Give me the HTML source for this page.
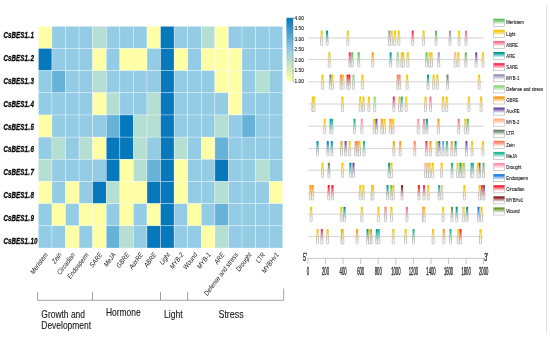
<!DOCTYPE html>
<html lang="en"><head><meta charset="utf-8"><title>CsBES1 cis-elements</title>
<style>
html,body{margin:0;padding:0;background:#fff;}
body{width:550px;height:337px;overflow:hidden;font-family:"Liberation Sans",Arial,sans-serif;}
svg{display:block;filter:blur(0.35px);}
</style></head><body>
<svg width="550" height="337" viewBox="0 0 550 337">
<rect width="550" height="337" fill="#ffffff"/>
<g id="heatmap" shape-rendering="auto">
<rect x="38.40" y="26.30" width="13.57" height="22.17" fill="#ffffa6" stroke="#ffffff" stroke-opacity="0.6" stroke-width="0.5"/>
<rect x="51.97" y="26.30" width="13.57" height="22.17" fill="#94cce6" stroke="#ffffff" stroke-opacity="0.6" stroke-width="0.5"/>
<rect x="65.55" y="26.30" width="13.57" height="22.17" fill="#94cce6" stroke="#ffffff" stroke-opacity="0.6" stroke-width="0.5"/>
<rect x="79.12" y="26.30" width="13.57" height="22.17" fill="#94cce6" stroke="#ffffff" stroke-opacity="0.6" stroke-width="0.5"/>
<rect x="92.70" y="26.30" width="13.57" height="22.17" fill="#b5dfd3" stroke="#ffffff" stroke-opacity="0.6" stroke-width="0.5"/>
<rect x="106.28" y="26.30" width="13.57" height="22.17" fill="#94cce6" stroke="#ffffff" stroke-opacity="0.6" stroke-width="0.5"/>
<rect x="119.85" y="26.30" width="13.57" height="22.17" fill="#94cce6" stroke="#ffffff" stroke-opacity="0.6" stroke-width="0.5"/>
<rect x="133.42" y="26.30" width="13.57" height="22.17" fill="#94cce6" stroke="#ffffff" stroke-opacity="0.6" stroke-width="0.5"/>
<rect x="147.00" y="26.30" width="13.57" height="22.17" fill="#ffffa6" stroke="#ffffff" stroke-opacity="0.6" stroke-width="0.5"/>
<rect x="160.57" y="26.30" width="13.57" height="22.17" fill="#0678bb" stroke="#ffffff" stroke-opacity="0.6" stroke-width="0.5"/>
<rect x="174.15" y="26.30" width="13.57" height="22.17" fill="#94cce6" stroke="#ffffff" stroke-opacity="0.6" stroke-width="0.5"/>
<rect x="187.72" y="26.30" width="13.57" height="22.17" fill="#94cce6" stroke="#ffffff" stroke-opacity="0.6" stroke-width="0.5"/>
<rect x="201.30" y="26.30" width="13.57" height="22.17" fill="#b5dfd3" stroke="#ffffff" stroke-opacity="0.6" stroke-width="0.5"/>
<rect x="214.88" y="26.30" width="13.57" height="22.17" fill="#ffffa6" stroke="#ffffff" stroke-opacity="0.6" stroke-width="0.5"/>
<rect x="228.45" y="26.30" width="13.57" height="22.17" fill="#94cce6" stroke="#ffffff" stroke-opacity="0.6" stroke-width="0.5"/>
<rect x="242.03" y="26.30" width="13.57" height="22.17" fill="#94cce6" stroke="#ffffff" stroke-opacity="0.6" stroke-width="0.5"/>
<rect x="255.60" y="26.30" width="13.57" height="22.17" fill="#94cce6" stroke="#ffffff" stroke-opacity="0.6" stroke-width="0.5"/>
<rect x="269.17" y="26.30" width="13.57" height="22.17" fill="#94cce6" stroke="#ffffff" stroke-opacity="0.6" stroke-width="0.5"/>
<rect x="38.40" y="48.47" width="13.57" height="22.17" fill="#0678bb" stroke="#ffffff" stroke-opacity="0.6" stroke-width="0.5"/>
<rect x="51.97" y="48.47" width="13.57" height="22.17" fill="#94cce6" stroke="#ffffff" stroke-opacity="0.6" stroke-width="0.5"/>
<rect x="65.55" y="48.47" width="13.57" height="22.17" fill="#94cce6" stroke="#ffffff" stroke-opacity="0.6" stroke-width="0.5"/>
<rect x="79.12" y="48.47" width="13.57" height="22.17" fill="#94cce6" stroke="#ffffff" stroke-opacity="0.6" stroke-width="0.5"/>
<rect x="92.70" y="48.47" width="13.57" height="22.17" fill="#ffffa6" stroke="#ffffff" stroke-opacity="0.6" stroke-width="0.5"/>
<rect x="106.28" y="48.47" width="13.57" height="22.17" fill="#94cce6" stroke="#ffffff" stroke-opacity="0.6" stroke-width="0.5"/>
<rect x="119.85" y="48.47" width="13.57" height="22.17" fill="#ffffa6" stroke="#ffffff" stroke-opacity="0.6" stroke-width="0.5"/>
<rect x="133.42" y="48.47" width="13.57" height="22.17" fill="#ffffa6" stroke="#ffffff" stroke-opacity="0.6" stroke-width="0.5"/>
<rect x="147.00" y="48.47" width="13.57" height="22.17" fill="#94cce6" stroke="#ffffff" stroke-opacity="0.6" stroke-width="0.5"/>
<rect x="160.57" y="48.47" width="13.57" height="22.17" fill="#0678bb" stroke="#ffffff" stroke-opacity="0.6" stroke-width="0.5"/>
<rect x="174.15" y="48.47" width="13.57" height="22.17" fill="#ffffa6" stroke="#ffffff" stroke-opacity="0.6" stroke-width="0.5"/>
<rect x="187.72" y="48.47" width="13.57" height="22.17" fill="#94cce6" stroke="#ffffff" stroke-opacity="0.6" stroke-width="0.5"/>
<rect x="201.30" y="48.47" width="13.57" height="22.17" fill="#ffffa6" stroke="#ffffff" stroke-opacity="0.6" stroke-width="0.5"/>
<rect x="214.88" y="48.47" width="13.57" height="22.17" fill="#ffffa6" stroke="#ffffff" stroke-opacity="0.6" stroke-width="0.5"/>
<rect x="228.45" y="48.47" width="13.57" height="22.17" fill="#ffffa6" stroke="#ffffff" stroke-opacity="0.6" stroke-width="0.5"/>
<rect x="242.03" y="48.47" width="13.57" height="22.17" fill="#94cce6" stroke="#ffffff" stroke-opacity="0.6" stroke-width="0.5"/>
<rect x="255.60" y="48.47" width="13.57" height="22.17" fill="#94cce6" stroke="#ffffff" stroke-opacity="0.6" stroke-width="0.5"/>
<rect x="269.17" y="48.47" width="13.57" height="22.17" fill="#94cce6" stroke="#ffffff" stroke-opacity="0.6" stroke-width="0.5"/>
<rect x="38.40" y="70.64" width="13.57" height="22.17" fill="#94cce6" stroke="#ffffff" stroke-opacity="0.6" stroke-width="0.5"/>
<rect x="51.97" y="70.64" width="13.57" height="22.17" fill="#66b2d8" stroke="#ffffff" stroke-opacity="0.6" stroke-width="0.5"/>
<rect x="65.55" y="70.64" width="13.57" height="22.17" fill="#94cce6" stroke="#ffffff" stroke-opacity="0.6" stroke-width="0.5"/>
<rect x="79.12" y="70.64" width="13.57" height="22.17" fill="#94cce6" stroke="#ffffff" stroke-opacity="0.6" stroke-width="0.5"/>
<rect x="92.70" y="70.64" width="13.57" height="22.17" fill="#b5dfd3" stroke="#ffffff" stroke-opacity="0.6" stroke-width="0.5"/>
<rect x="106.28" y="70.64" width="13.57" height="22.17" fill="#94cce6" stroke="#ffffff" stroke-opacity="0.6" stroke-width="0.5"/>
<rect x="119.85" y="70.64" width="13.57" height="22.17" fill="#94cce6" stroke="#ffffff" stroke-opacity="0.6" stroke-width="0.5"/>
<rect x="133.42" y="70.64" width="13.57" height="22.17" fill="#94cce6" stroke="#ffffff" stroke-opacity="0.6" stroke-width="0.5"/>
<rect x="147.00" y="70.64" width="13.57" height="22.17" fill="#94cce6" stroke="#ffffff" stroke-opacity="0.6" stroke-width="0.5"/>
<rect x="160.57" y="70.64" width="13.57" height="22.17" fill="#0678bb" stroke="#ffffff" stroke-opacity="0.6" stroke-width="0.5"/>
<rect x="174.15" y="70.64" width="13.57" height="22.17" fill="#94cce6" stroke="#ffffff" stroke-opacity="0.6" stroke-width="0.5"/>
<rect x="187.72" y="70.64" width="13.57" height="22.17" fill="#94cce6" stroke="#ffffff" stroke-opacity="0.6" stroke-width="0.5"/>
<rect x="201.30" y="70.64" width="13.57" height="22.17" fill="#94cce6" stroke="#ffffff" stroke-opacity="0.6" stroke-width="0.5"/>
<rect x="214.88" y="70.64" width="13.57" height="22.17" fill="#ffffa6" stroke="#ffffff" stroke-opacity="0.6" stroke-width="0.5"/>
<rect x="228.45" y="70.64" width="13.57" height="22.17" fill="#ffffa6" stroke="#ffffff" stroke-opacity="0.6" stroke-width="0.5"/>
<rect x="242.03" y="70.64" width="13.57" height="22.17" fill="#94cce6" stroke="#ffffff" stroke-opacity="0.6" stroke-width="0.5"/>
<rect x="255.60" y="70.64" width="13.57" height="22.17" fill="#b5dfd3" stroke="#ffffff" stroke-opacity="0.6" stroke-width="0.5"/>
<rect x="269.17" y="70.64" width="13.57" height="22.17" fill="#94cce6" stroke="#ffffff" stroke-opacity="0.6" stroke-width="0.5"/>
<rect x="38.40" y="92.81" width="13.57" height="22.17" fill="#94cce6" stroke="#ffffff" stroke-opacity="0.6" stroke-width="0.5"/>
<rect x="51.97" y="92.81" width="13.57" height="22.17" fill="#94cce6" stroke="#ffffff" stroke-opacity="0.6" stroke-width="0.5"/>
<rect x="65.55" y="92.81" width="13.57" height="22.17" fill="#94cce6" stroke="#ffffff" stroke-opacity="0.6" stroke-width="0.5"/>
<rect x="79.12" y="92.81" width="13.57" height="22.17" fill="#94cce6" stroke="#ffffff" stroke-opacity="0.6" stroke-width="0.5"/>
<rect x="92.70" y="92.81" width="13.57" height="22.17" fill="#ffffa6" stroke="#ffffff" stroke-opacity="0.6" stroke-width="0.5"/>
<rect x="106.28" y="92.81" width="13.57" height="22.17" fill="#b5dfd3" stroke="#ffffff" stroke-opacity="0.6" stroke-width="0.5"/>
<rect x="119.85" y="92.81" width="13.57" height="22.17" fill="#94cce6" stroke="#ffffff" stroke-opacity="0.6" stroke-width="0.5"/>
<rect x="133.42" y="92.81" width="13.57" height="22.17" fill="#94cce6" stroke="#ffffff" stroke-opacity="0.6" stroke-width="0.5"/>
<rect x="147.00" y="92.81" width="13.57" height="22.17" fill="#b5dfd3" stroke="#ffffff" stroke-opacity="0.6" stroke-width="0.5"/>
<rect x="160.57" y="92.81" width="13.57" height="22.17" fill="#0678bb" stroke="#ffffff" stroke-opacity="0.6" stroke-width="0.5"/>
<rect x="174.15" y="92.81" width="13.57" height="22.17" fill="#94cce6" stroke="#ffffff" stroke-opacity="0.6" stroke-width="0.5"/>
<rect x="187.72" y="92.81" width="13.57" height="22.17" fill="#94cce6" stroke="#ffffff" stroke-opacity="0.6" stroke-width="0.5"/>
<rect x="201.30" y="92.81" width="13.57" height="22.17" fill="#94cce6" stroke="#ffffff" stroke-opacity="0.6" stroke-width="0.5"/>
<rect x="214.88" y="92.81" width="13.57" height="22.17" fill="#94cce6" stroke="#ffffff" stroke-opacity="0.6" stroke-width="0.5"/>
<rect x="228.45" y="92.81" width="13.57" height="22.17" fill="#ffffa6" stroke="#ffffff" stroke-opacity="0.6" stroke-width="0.5"/>
<rect x="242.03" y="92.81" width="13.57" height="22.17" fill="#94cce6" stroke="#ffffff" stroke-opacity="0.6" stroke-width="0.5"/>
<rect x="255.60" y="92.81" width="13.57" height="22.17" fill="#94cce6" stroke="#ffffff" stroke-opacity="0.6" stroke-width="0.5"/>
<rect x="269.17" y="92.81" width="13.57" height="22.17" fill="#94cce6" stroke="#ffffff" stroke-opacity="0.6" stroke-width="0.5"/>
<rect x="38.40" y="114.98" width="13.57" height="22.17" fill="#ffffa6" stroke="#ffffff" stroke-opacity="0.6" stroke-width="0.5"/>
<rect x="51.97" y="114.98" width="13.57" height="22.17" fill="#94cce6" stroke="#ffffff" stroke-opacity="0.6" stroke-width="0.5"/>
<rect x="65.55" y="114.98" width="13.57" height="22.17" fill="#94cce6" stroke="#ffffff" stroke-opacity="0.6" stroke-width="0.5"/>
<rect x="79.12" y="114.98" width="13.57" height="22.17" fill="#94cce6" stroke="#ffffff" stroke-opacity="0.6" stroke-width="0.5"/>
<rect x="92.70" y="114.98" width="13.57" height="22.17" fill="#94cce6" stroke="#ffffff" stroke-opacity="0.6" stroke-width="0.5"/>
<rect x="106.28" y="114.98" width="13.57" height="22.17" fill="#66b2d8" stroke="#ffffff" stroke-opacity="0.6" stroke-width="0.5"/>
<rect x="119.85" y="114.98" width="13.57" height="22.17" fill="#0678bb" stroke="#ffffff" stroke-opacity="0.6" stroke-width="0.5"/>
<rect x="133.42" y="114.98" width="13.57" height="22.17" fill="#b5dfd3" stroke="#ffffff" stroke-opacity="0.6" stroke-width="0.5"/>
<rect x="147.00" y="114.98" width="13.57" height="22.17" fill="#b5dfd3" stroke="#ffffff" stroke-opacity="0.6" stroke-width="0.5"/>
<rect x="160.57" y="114.98" width="13.57" height="22.17" fill="#0678bb" stroke="#ffffff" stroke-opacity="0.6" stroke-width="0.5"/>
<rect x="174.15" y="114.98" width="13.57" height="22.17" fill="#94cce6" stroke="#ffffff" stroke-opacity="0.6" stroke-width="0.5"/>
<rect x="187.72" y="114.98" width="13.57" height="22.17" fill="#94cce6" stroke="#ffffff" stroke-opacity="0.6" stroke-width="0.5"/>
<rect x="201.30" y="114.98" width="13.57" height="22.17" fill="#94cce6" stroke="#ffffff" stroke-opacity="0.6" stroke-width="0.5"/>
<rect x="214.88" y="114.98" width="13.57" height="22.17" fill="#b5dfd3" stroke="#ffffff" stroke-opacity="0.6" stroke-width="0.5"/>
<rect x="228.45" y="114.98" width="13.57" height="22.17" fill="#94cce6" stroke="#ffffff" stroke-opacity="0.6" stroke-width="0.5"/>
<rect x="242.03" y="114.98" width="13.57" height="22.17" fill="#66b2d8" stroke="#ffffff" stroke-opacity="0.6" stroke-width="0.5"/>
<rect x="255.60" y="114.98" width="13.57" height="22.17" fill="#94cce6" stroke="#ffffff" stroke-opacity="0.6" stroke-width="0.5"/>
<rect x="269.17" y="114.98" width="13.57" height="22.17" fill="#94cce6" stroke="#ffffff" stroke-opacity="0.6" stroke-width="0.5"/>
<rect x="38.40" y="137.15" width="13.57" height="22.17" fill="#94cce6" stroke="#ffffff" stroke-opacity="0.6" stroke-width="0.5"/>
<rect x="51.97" y="137.15" width="13.57" height="22.17" fill="#b5dfd3" stroke="#ffffff" stroke-opacity="0.6" stroke-width="0.5"/>
<rect x="65.55" y="137.15" width="13.57" height="22.17" fill="#94cce6" stroke="#ffffff" stroke-opacity="0.6" stroke-width="0.5"/>
<rect x="79.12" y="137.15" width="13.57" height="22.17" fill="#b5dfd3" stroke="#ffffff" stroke-opacity="0.6" stroke-width="0.5"/>
<rect x="92.70" y="137.15" width="13.57" height="22.17" fill="#ffffa6" stroke="#ffffff" stroke-opacity="0.6" stroke-width="0.5"/>
<rect x="106.28" y="137.15" width="13.57" height="22.17" fill="#0678bb" stroke="#ffffff" stroke-opacity="0.6" stroke-width="0.5"/>
<rect x="119.85" y="137.15" width="13.57" height="22.17" fill="#0678bb" stroke="#ffffff" stroke-opacity="0.6" stroke-width="0.5"/>
<rect x="133.42" y="137.15" width="13.57" height="22.17" fill="#b5dfd3" stroke="#ffffff" stroke-opacity="0.6" stroke-width="0.5"/>
<rect x="147.00" y="137.15" width="13.57" height="22.17" fill="#94cce6" stroke="#ffffff" stroke-opacity="0.6" stroke-width="0.5"/>
<rect x="160.57" y="137.15" width="13.57" height="22.17" fill="#0678bb" stroke="#ffffff" stroke-opacity="0.6" stroke-width="0.5"/>
<rect x="174.15" y="137.15" width="13.57" height="22.17" fill="#b5dfd3" stroke="#ffffff" stroke-opacity="0.6" stroke-width="0.5"/>
<rect x="187.72" y="137.15" width="13.57" height="22.17" fill="#94cce6" stroke="#ffffff" stroke-opacity="0.6" stroke-width="0.5"/>
<rect x="201.30" y="137.15" width="13.57" height="22.17" fill="#ffffa6" stroke="#ffffff" stroke-opacity="0.6" stroke-width="0.5"/>
<rect x="214.88" y="137.15" width="13.57" height="22.17" fill="#66b2d8" stroke="#ffffff" stroke-opacity="0.6" stroke-width="0.5"/>
<rect x="228.45" y="137.15" width="13.57" height="22.17" fill="#94cce6" stroke="#ffffff" stroke-opacity="0.6" stroke-width="0.5"/>
<rect x="242.03" y="137.15" width="13.57" height="22.17" fill="#94cce6" stroke="#ffffff" stroke-opacity="0.6" stroke-width="0.5"/>
<rect x="255.60" y="137.15" width="13.57" height="22.17" fill="#94cce6" stroke="#ffffff" stroke-opacity="0.6" stroke-width="0.5"/>
<rect x="269.17" y="137.15" width="13.57" height="22.17" fill="#94cce6" stroke="#ffffff" stroke-opacity="0.6" stroke-width="0.5"/>
<rect x="38.40" y="159.32" width="13.57" height="22.17" fill="#b5dfd3" stroke="#ffffff" stroke-opacity="0.6" stroke-width="0.5"/>
<rect x="51.97" y="159.32" width="13.57" height="22.17" fill="#94cce6" stroke="#ffffff" stroke-opacity="0.6" stroke-width="0.5"/>
<rect x="65.55" y="159.32" width="13.57" height="22.17" fill="#94cce6" stroke="#ffffff" stroke-opacity="0.6" stroke-width="0.5"/>
<rect x="79.12" y="159.32" width="13.57" height="22.17" fill="#94cce6" stroke="#ffffff" stroke-opacity="0.6" stroke-width="0.5"/>
<rect x="92.70" y="159.32" width="13.57" height="22.17" fill="#94cce6" stroke="#ffffff" stroke-opacity="0.6" stroke-width="0.5"/>
<rect x="106.28" y="159.32" width="13.57" height="22.17" fill="#0678bb" stroke="#ffffff" stroke-opacity="0.6" stroke-width="0.5"/>
<rect x="119.85" y="159.32" width="13.57" height="22.17" fill="#ffffa6" stroke="#ffffff" stroke-opacity="0.6" stroke-width="0.5"/>
<rect x="133.42" y="159.32" width="13.57" height="22.17" fill="#b5dfd3" stroke="#ffffff" stroke-opacity="0.6" stroke-width="0.5"/>
<rect x="147.00" y="159.32" width="13.57" height="22.17" fill="#66b2d8" stroke="#ffffff" stroke-opacity="0.6" stroke-width="0.5"/>
<rect x="160.57" y="159.32" width="13.57" height="22.17" fill="#0678bb" stroke="#ffffff" stroke-opacity="0.6" stroke-width="0.5"/>
<rect x="174.15" y="159.32" width="13.57" height="22.17" fill="#ffffa6" stroke="#ffffff" stroke-opacity="0.6" stroke-width="0.5"/>
<rect x="187.72" y="159.32" width="13.57" height="22.17" fill="#94cce6" stroke="#ffffff" stroke-opacity="0.6" stroke-width="0.5"/>
<rect x="201.30" y="159.32" width="13.57" height="22.17" fill="#94cce6" stroke="#ffffff" stroke-opacity="0.6" stroke-width="0.5"/>
<rect x="214.88" y="159.32" width="13.57" height="22.17" fill="#0678bb" stroke="#ffffff" stroke-opacity="0.6" stroke-width="0.5"/>
<rect x="228.45" y="159.32" width="13.57" height="22.17" fill="#94cce6" stroke="#ffffff" stroke-opacity="0.6" stroke-width="0.5"/>
<rect x="242.03" y="159.32" width="13.57" height="22.17" fill="#94cce6" stroke="#ffffff" stroke-opacity="0.6" stroke-width="0.5"/>
<rect x="255.60" y="159.32" width="13.57" height="22.17" fill="#b5dfd3" stroke="#ffffff" stroke-opacity="0.6" stroke-width="0.5"/>
<rect x="269.17" y="159.32" width="13.57" height="22.17" fill="#94cce6" stroke="#ffffff" stroke-opacity="0.6" stroke-width="0.5"/>
<rect x="38.40" y="181.49" width="13.57" height="22.17" fill="#ffffa6" stroke="#ffffff" stroke-opacity="0.6" stroke-width="0.5"/>
<rect x="51.97" y="181.49" width="13.57" height="22.17" fill="#94cce6" stroke="#ffffff" stroke-opacity="0.6" stroke-width="0.5"/>
<rect x="65.55" y="181.49" width="13.57" height="22.17" fill="#ffffa6" stroke="#ffffff" stroke-opacity="0.6" stroke-width="0.5"/>
<rect x="79.12" y="181.49" width="13.57" height="22.17" fill="#94cce6" stroke="#ffffff" stroke-opacity="0.6" stroke-width="0.5"/>
<rect x="92.70" y="181.49" width="13.57" height="22.17" fill="#0678bb" stroke="#ffffff" stroke-opacity="0.6" stroke-width="0.5"/>
<rect x="106.28" y="181.49" width="13.57" height="22.17" fill="#b5dfd3" stroke="#ffffff" stroke-opacity="0.6" stroke-width="0.5"/>
<rect x="119.85" y="181.49" width="13.57" height="22.17" fill="#ffffa6" stroke="#ffffff" stroke-opacity="0.6" stroke-width="0.5"/>
<rect x="133.42" y="181.49" width="13.57" height="22.17" fill="#ffffa6" stroke="#ffffff" stroke-opacity="0.6" stroke-width="0.5"/>
<rect x="147.00" y="181.49" width="13.57" height="22.17" fill="#0678bb" stroke="#ffffff" stroke-opacity="0.6" stroke-width="0.5"/>
<rect x="160.57" y="181.49" width="13.57" height="22.17" fill="#0678bb" stroke="#ffffff" stroke-opacity="0.6" stroke-width="0.5"/>
<rect x="174.15" y="181.49" width="13.57" height="22.17" fill="#ffffa6" stroke="#ffffff" stroke-opacity="0.6" stroke-width="0.5"/>
<rect x="187.72" y="181.49" width="13.57" height="22.17" fill="#94cce6" stroke="#ffffff" stroke-opacity="0.6" stroke-width="0.5"/>
<rect x="201.30" y="181.49" width="13.57" height="22.17" fill="#94cce6" stroke="#ffffff" stroke-opacity="0.6" stroke-width="0.5"/>
<rect x="214.88" y="181.49" width="13.57" height="22.17" fill="#b5dfd3" stroke="#ffffff" stroke-opacity="0.6" stroke-width="0.5"/>
<rect x="228.45" y="181.49" width="13.57" height="22.17" fill="#94cce6" stroke="#ffffff" stroke-opacity="0.6" stroke-width="0.5"/>
<rect x="242.03" y="181.49" width="13.57" height="22.17" fill="#94cce6" stroke="#ffffff" stroke-opacity="0.6" stroke-width="0.5"/>
<rect x="255.60" y="181.49" width="13.57" height="22.17" fill="#94cce6" stroke="#ffffff" stroke-opacity="0.6" stroke-width="0.5"/>
<rect x="269.17" y="181.49" width="13.57" height="22.17" fill="#ffffa6" stroke="#ffffff" stroke-opacity="0.6" stroke-width="0.5"/>
<rect x="38.40" y="203.66" width="13.57" height="22.17" fill="#94cce6" stroke="#ffffff" stroke-opacity="0.6" stroke-width="0.5"/>
<rect x="51.97" y="203.66" width="13.57" height="22.17" fill="#ffffa6" stroke="#ffffff" stroke-opacity="0.6" stroke-width="0.5"/>
<rect x="65.55" y="203.66" width="13.57" height="22.17" fill="#94cce6" stroke="#ffffff" stroke-opacity="0.6" stroke-width="0.5"/>
<rect x="79.12" y="203.66" width="13.57" height="22.17" fill="#ffffa6" stroke="#ffffff" stroke-opacity="0.6" stroke-width="0.5"/>
<rect x="92.70" y="203.66" width="13.57" height="22.17" fill="#ffffa6" stroke="#ffffff" stroke-opacity="0.6" stroke-width="0.5"/>
<rect x="106.28" y="203.66" width="13.57" height="22.17" fill="#94cce6" stroke="#ffffff" stroke-opacity="0.6" stroke-width="0.5"/>
<rect x="119.85" y="203.66" width="13.57" height="22.17" fill="#ffffa6" stroke="#ffffff" stroke-opacity="0.6" stroke-width="0.5"/>
<rect x="133.42" y="203.66" width="13.57" height="22.17" fill="#94cce6" stroke="#ffffff" stroke-opacity="0.6" stroke-width="0.5"/>
<rect x="147.00" y="203.66" width="13.57" height="22.17" fill="#ffffa6" stroke="#ffffff" stroke-opacity="0.6" stroke-width="0.5"/>
<rect x="160.57" y="203.66" width="13.57" height="22.17" fill="#0678bb" stroke="#ffffff" stroke-opacity="0.6" stroke-width="0.5"/>
<rect x="174.15" y="203.66" width="13.57" height="22.17" fill="#94cce6" stroke="#ffffff" stroke-opacity="0.6" stroke-width="0.5"/>
<rect x="187.72" y="203.66" width="13.57" height="22.17" fill="#ffffa6" stroke="#ffffff" stroke-opacity="0.6" stroke-width="0.5"/>
<rect x="201.30" y="203.66" width="13.57" height="22.17" fill="#94cce6" stroke="#ffffff" stroke-opacity="0.6" stroke-width="0.5"/>
<rect x="214.88" y="203.66" width="13.57" height="22.17" fill="#66b2d8" stroke="#ffffff" stroke-opacity="0.6" stroke-width="0.5"/>
<rect x="228.45" y="203.66" width="13.57" height="22.17" fill="#94cce6" stroke="#ffffff" stroke-opacity="0.6" stroke-width="0.5"/>
<rect x="242.03" y="203.66" width="13.57" height="22.17" fill="#94cce6" stroke="#ffffff" stroke-opacity="0.6" stroke-width="0.5"/>
<rect x="255.60" y="203.66" width="13.57" height="22.17" fill="#94cce6" stroke="#ffffff" stroke-opacity="0.6" stroke-width="0.5"/>
<rect x="269.17" y="203.66" width="13.57" height="22.17" fill="#94cce6" stroke="#ffffff" stroke-opacity="0.6" stroke-width="0.5"/>
<rect x="38.40" y="225.83" width="13.57" height="22.17" fill="#94cce6" stroke="#ffffff" stroke-opacity="0.6" stroke-width="0.5"/>
<rect x="51.97" y="225.83" width="13.57" height="22.17" fill="#94cce6" stroke="#ffffff" stroke-opacity="0.6" stroke-width="0.5"/>
<rect x="65.55" y="225.83" width="13.57" height="22.17" fill="#ffffa6" stroke="#ffffff" stroke-opacity="0.6" stroke-width="0.5"/>
<rect x="79.12" y="225.83" width="13.57" height="22.17" fill="#94cce6" stroke="#ffffff" stroke-opacity="0.6" stroke-width="0.5"/>
<rect x="92.70" y="225.83" width="13.57" height="22.17" fill="#ffffa6" stroke="#ffffff" stroke-opacity="0.6" stroke-width="0.5"/>
<rect x="106.28" y="225.83" width="13.57" height="22.17" fill="#66b2d8" stroke="#ffffff" stroke-opacity="0.6" stroke-width="0.5"/>
<rect x="119.85" y="225.83" width="13.57" height="22.17" fill="#b5dfd3" stroke="#ffffff" stroke-opacity="0.6" stroke-width="0.5"/>
<rect x="133.42" y="225.83" width="13.57" height="22.17" fill="#94cce6" stroke="#ffffff" stroke-opacity="0.6" stroke-width="0.5"/>
<rect x="147.00" y="225.83" width="13.57" height="22.17" fill="#0678bb" stroke="#ffffff" stroke-opacity="0.6" stroke-width="0.5"/>
<rect x="160.57" y="225.83" width="13.57" height="22.17" fill="#0678bb" stroke="#ffffff" stroke-opacity="0.6" stroke-width="0.5"/>
<rect x="174.15" y="225.83" width="13.57" height="22.17" fill="#94cce6" stroke="#ffffff" stroke-opacity="0.6" stroke-width="0.5"/>
<rect x="187.72" y="225.83" width="13.57" height="22.17" fill="#94cce6" stroke="#ffffff" stroke-opacity="0.6" stroke-width="0.5"/>
<rect x="201.30" y="225.83" width="13.57" height="22.17" fill="#ffffa6" stroke="#ffffff" stroke-opacity="0.6" stroke-width="0.5"/>
<rect x="214.88" y="225.83" width="13.57" height="22.17" fill="#b5dfd3" stroke="#ffffff" stroke-opacity="0.6" stroke-width="0.5"/>
<rect x="228.45" y="225.83" width="13.57" height="22.17" fill="#94cce6" stroke="#ffffff" stroke-opacity="0.6" stroke-width="0.5"/>
<rect x="242.03" y="225.83" width="13.57" height="22.17" fill="#94cce6" stroke="#ffffff" stroke-opacity="0.6" stroke-width="0.5"/>
<rect x="255.60" y="225.83" width="13.57" height="22.17" fill="#94cce6" stroke="#ffffff" stroke-opacity="0.6" stroke-width="0.5"/>
<rect x="269.17" y="225.83" width="13.57" height="22.17" fill="#94cce6" stroke="#ffffff" stroke-opacity="0.6" stroke-width="0.5"/>
</g>
<g id="rowlabels" font-family="'Liberation Sans', Arial, sans-serif" font-weight="bold" font-style="italic" font-size="9.8" fill="#0a0a0a" stroke="#0a0a0a" stroke-width="0.3">
<text vector-effect="non-scaling-stroke" transform="translate(3.5,38.40) scale(0.64,1)">CsBES1<tspan dx="0.7">.</tspan><tspan dx="0.7">1</tspan></text>
<text vector-effect="non-scaling-stroke" transform="translate(3.5,61.20) scale(0.64,1)">CsBES1<tspan dx="0.7">.</tspan><tspan dx="0.7">2</tspan></text>
<text vector-effect="non-scaling-stroke" transform="translate(3.5,84.00) scale(0.64,1)">CsBES1<tspan dx="0.7">.</tspan><tspan dx="0.7">3</tspan></text>
<text vector-effect="non-scaling-stroke" transform="translate(3.5,106.80) scale(0.64,1)">CsBES1<tspan dx="0.7">.</tspan><tspan dx="0.7">4</tspan></text>
<text vector-effect="non-scaling-stroke" transform="translate(3.5,129.60) scale(0.64,1)">CsBES1<tspan dx="0.7">.</tspan><tspan dx="0.7">5</tspan></text>
<text vector-effect="non-scaling-stroke" transform="translate(3.5,152.40) scale(0.64,1)">CsBES1<tspan dx="0.7">.</tspan><tspan dx="0.7">6</tspan></text>
<text vector-effect="non-scaling-stroke" transform="translate(3.5,175.20) scale(0.64,1)">CsBES1<tspan dx="0.7">.</tspan><tspan dx="0.7">7</tspan></text>
<text vector-effect="non-scaling-stroke" transform="translate(3.5,198.00) scale(0.64,1)">CsBES1<tspan dx="0.7">.</tspan><tspan dx="0.7">8</tspan></text>
<text vector-effect="non-scaling-stroke" transform="translate(3.5,220.80) scale(0.64,1)">CsBES1<tspan dx="0.7">.</tspan><tspan dx="0.7">9</tspan></text>
<text vector-effect="non-scaling-stroke" transform="translate(3.5,243.60) scale(0.64,1)">CsBES1<tspan dx="0.7">.</tspan><tspan dx="0.7">10</tspan></text>
</g>
<g id="collabels" font-family="'Liberation Sans', Arial, sans-serif" font-style="italic" font-size="7" fill="#1a1a1a" text-anchor="end">
<text transform="translate(48.39,254.90) rotate(-53) scale(0.86,1)">Meristem</text>
<text transform="translate(61.96,254.90) rotate(-53) scale(0.86,1)">Zein</text>
<text transform="translate(75.54,254.90) rotate(-53) scale(0.86,1)">Circadian</text>
<text transform="translate(89.11,254.90) rotate(-53) scale(0.86,1)">Endosperm</text>
<text transform="translate(102.69,254.90) rotate(-53) scale(0.86,1)">SARE</text>
<text transform="translate(116.26,254.90) rotate(-53) scale(0.86,1)">MeJA</text>
<text transform="translate(129.84,254.90) rotate(-53) scale(0.86,1)">GBRE</text>
<text transform="translate(143.41,254.90) rotate(-53) scale(0.86,1)">AuxRE</text>
<text transform="translate(156.99,254.90) rotate(-53) scale(0.86,1)">ABRE</text>
<text transform="translate(170.56,254.90) rotate(-53) scale(0.86,1)">Light</text>
<text transform="translate(184.14,254.90) rotate(-53) scale(0.86,1)">MYB-2</text>
<text transform="translate(197.71,254.90) rotate(-53) scale(0.86,1)">Wound</text>
<text transform="translate(211.29,254.90) rotate(-53) scale(0.86,1)">MYB-1</text>
<text transform="translate(224.86,254.90) rotate(-53) scale(0.86,1)">ARE</text>
<text transform="translate(238.44,254.90) rotate(-53) scale(0.86,1)">Defense and stress</text>
<text transform="translate(252.01,254.90) rotate(-53) scale(0.86,1)">Drought</text>
<text transform="translate(265.59,254.90) rotate(-53) scale(0.86,1)">LTR</text>
<text transform="translate(279.16,254.90) rotate(-53) scale(0.86,1)">MYBHv1</text>
</g>
<g id="bracket" stroke="#8a8a8a" stroke-width="0.8" fill="none">
<path d="M37.6 291.9V300.3H283.7V288.5"/>
<path d="M92.5 291.9V300.3"/>
<path d="M160.5 291.9V300.3"/>
<path d="M187.7 291.9V300.3"/>
</g>
<g id="grouplabels" font-family="'Liberation Sans', Arial, sans-serif" font-size="10.2" fill="#1a1a1a" stroke="#1a1a1a" stroke-width="0.12">
<text transform="translate(41.3,317.7) scale(0.83,1)">Growth and</text>
<text transform="translate(41.3,328.6) scale(0.83,1)">Development</text>
<text transform="translate(105.9,315.8) scale(0.83,1)">Hormone</text>
<text transform="translate(164.0,317.8) scale(0.85,1)">Light</text>
<text transform="translate(218.5,317.8) scale(0.87,1)">Stress</text>
</g>
<defs><linearGradient id="cb" x1="0" y1="0" x2="0" y2="1"><stop offset="0" stop-color="#0678bb"/><stop offset="0.5" stop-color="#93cbe7"/><stop offset="1" stop-color="#ffffa6"/></linearGradient></defs>
<rect x="286.4" y="17.8" width="6.60" height="63.50" fill="url(#cb)"/>
<path d="M293.0 17.8V81.3" stroke="#5a6a72" stroke-width="0.4" fill="none"/>
<g id="cblabels" font-family="'Liberation Sans', Arial, sans-serif" font-size="4.8" fill="#1a1a1a" stroke="#1a1a1a" stroke-width="0.1">
<path d="M293.0 17.80h1.2" stroke="#333" stroke-width="0.4"/>
<text x="294.60" y="19.50">4.00</text>
<path d="M293.0 28.38h1.2" stroke="#333" stroke-width="0.4"/>
<text x="294.60" y="30.08">3.50</text>
<path d="M293.0 38.97h1.2" stroke="#333" stroke-width="0.4"/>
<text x="294.60" y="40.67">3.00</text>
<path d="M293.0 49.55h1.2" stroke="#333" stroke-width="0.4"/>
<text x="294.60" y="51.25">2.50</text>
<path d="M293.0 60.13h1.2" stroke="#333" stroke-width="0.4"/>
<text x="294.60" y="61.83">2.00</text>
<path d="M293.0 70.72h1.2" stroke="#333" stroke-width="0.4"/>
<text x="294.60" y="72.42">1.50</text>
<path d="M293.0 81.30h1.2" stroke="#333" stroke-width="0.4"/>
<text x="294.60" y="83.00">1.00</text>
</g>
<defs>
<linearGradient id="g0" x1="0" y1="0" x2="0" y2="1"><stop offset="0" stop-color="#5cbf5c"/><stop offset="0.1" stop-color="#5cbf5c"/><stop offset="0.86" stop-color="#ffffff"/><stop offset="1" stop-color="#ffffff"/></linearGradient>
<linearGradient id="g1" x1="0" y1="0" x2="0" y2="1"><stop offset="0" stop-color="#f7c600"/><stop offset="0.1" stop-color="#f7c600"/><stop offset="0.86" stop-color="#ffffff"/><stop offset="1" stop-color="#ffffff"/></linearGradient>
<linearGradient id="g2" x1="0" y1="0" x2="0" y2="1"><stop offset="0" stop-color="#f2708e"/><stop offset="0.1" stop-color="#f2708e"/><stop offset="0.86" stop-color="#ffffff"/><stop offset="1" stop-color="#ffffff"/></linearGradient>
<linearGradient id="g3" x1="0" y1="0" x2="0" y2="1"><stop offset="0" stop-color="#009a94"/><stop offset="0.1" stop-color="#009a94"/><stop offset="0.86" stop-color="#ffffff"/><stop offset="1" stop-color="#ffffff"/></linearGradient>
<linearGradient id="g4" x1="0" y1="0" x2="0" y2="1"><stop offset="0" stop-color="#f2304e"/><stop offset="0.1" stop-color="#f2304e"/><stop offset="0.86" stop-color="#ffffff"/><stop offset="1" stop-color="#ffffff"/></linearGradient>
<linearGradient id="g5" x1="0" y1="0" x2="0" y2="1"><stop offset="0" stop-color="#9a93ba"/><stop offset="0.1" stop-color="#9a93ba"/><stop offset="0.86" stop-color="#ffffff"/><stop offset="1" stop-color="#ffffff"/></linearGradient>
<linearGradient id="g6" x1="0" y1="0" x2="0" y2="1"><stop offset="0" stop-color="#8ed47e"/><stop offset="0.1" stop-color="#8ed47e"/><stop offset="0.86" stop-color="#ffffff"/><stop offset="1" stop-color="#ffffff"/></linearGradient>
<linearGradient id="g7" x1="0" y1="0" x2="0" y2="1"><stop offset="0" stop-color="#ff9a12"/><stop offset="0.1" stop-color="#ff9a12"/><stop offset="0.86" stop-color="#ffffff"/><stop offset="1" stop-color="#ffffff"/></linearGradient>
<linearGradient id="g8" x1="0" y1="0" x2="0" y2="1"><stop offset="0" stop-color="#6b4aa6"/><stop offset="0.1" stop-color="#6b4aa6"/><stop offset="0.86" stop-color="#ffffff"/><stop offset="1" stop-color="#ffffff"/></linearGradient>
<linearGradient id="g9" x1="0" y1="0" x2="0" y2="1"><stop offset="0" stop-color="#ffb184"/><stop offset="0.1" stop-color="#ffb184"/><stop offset="0.86" stop-color="#ffffff"/><stop offset="1" stop-color="#ffffff"/></linearGradient>
<linearGradient id="g10" x1="0" y1="0" x2="0" y2="1"><stop offset="0" stop-color="#68836d"/><stop offset="0.1" stop-color="#68836d"/><stop offset="0.86" stop-color="#ffffff"/><stop offset="1" stop-color="#ffffff"/></linearGradient>
<linearGradient id="g11" x1="0" y1="0" x2="0" y2="1"><stop offset="0" stop-color="#ff7a5c"/><stop offset="0.1" stop-color="#ff7a5c"/><stop offset="0.86" stop-color="#ffffff"/><stop offset="1" stop-color="#ffffff"/></linearGradient>
<linearGradient id="g12" x1="0" y1="0" x2="0" y2="1"><stop offset="0" stop-color="#1db690"/><stop offset="0.1" stop-color="#1db690"/><stop offset="0.86" stop-color="#ffffff"/><stop offset="1" stop-color="#ffffff"/></linearGradient>
<linearGradient id="g13" x1="0" y1="0" x2="0" y2="1"><stop offset="0" stop-color="#ff90a9"/><stop offset="0.1" stop-color="#ff90a9"/><stop offset="0.86" stop-color="#ffffff"/><stop offset="1" stop-color="#ffffff"/></linearGradient>
<linearGradient id="g14" x1="0" y1="0" x2="0" y2="1"><stop offset="0" stop-color="#1878e0"/><stop offset="0.1" stop-color="#1878e0"/><stop offset="0.86" stop-color="#ffffff"/><stop offset="1" stop-color="#ffffff"/></linearGradient>
<linearGradient id="g15" x1="0" y1="0" x2="0" y2="1"><stop offset="0" stop-color="#f0202f"/><stop offset="0.1" stop-color="#f0202f"/><stop offset="0.86" stop-color="#ffffff"/><stop offset="1" stop-color="#ffffff"/></linearGradient>
<linearGradient id="g16" x1="0" y1="0" x2="0" y2="1"><stop offset="0" stop-color="#8a1f1f"/><stop offset="0.1" stop-color="#8a1f1f"/><stop offset="0.86" stop-color="#ffffff"/><stop offset="1" stop-color="#ffffff"/></linearGradient>
<linearGradient id="g17" x1="0" y1="0" x2="0" y2="1"><stop offset="0" stop-color="#6b9a2e"/><stop offset="0.1" stop-color="#6b9a2e"/><stop offset="0.86" stop-color="#ffffff"/><stop offset="1" stop-color="#ffffff"/></linearGradient>
<linearGradient id="lg0" x1="0" y1="0" x2="0" y2="1"><stop offset="0" stop-color="#5cbf5c"/><stop offset="0.14" stop-color="#5cbf5c"/><stop offset="0.74" stop-color="#ffffff"/><stop offset="1" stop-color="#ffffff"/></linearGradient>
<linearGradient id="lg1" x1="0" y1="0" x2="0" y2="1"><stop offset="0" stop-color="#f7c600"/><stop offset="0.14" stop-color="#f7c600"/><stop offset="0.74" stop-color="#ffffff"/><stop offset="1" stop-color="#ffffff"/></linearGradient>
<linearGradient id="lg2" x1="0" y1="0" x2="0" y2="1"><stop offset="0" stop-color="#f2708e"/><stop offset="0.14" stop-color="#f2708e"/><stop offset="0.74" stop-color="#ffffff"/><stop offset="1" stop-color="#ffffff"/></linearGradient>
<linearGradient id="lg3" x1="0" y1="0" x2="0" y2="1"><stop offset="0" stop-color="#009a94"/><stop offset="0.14" stop-color="#009a94"/><stop offset="0.74" stop-color="#ffffff"/><stop offset="1" stop-color="#ffffff"/></linearGradient>
<linearGradient id="lg4" x1="0" y1="0" x2="0" y2="1"><stop offset="0" stop-color="#f2304e"/><stop offset="0.14" stop-color="#f2304e"/><stop offset="0.74" stop-color="#ffffff"/><stop offset="1" stop-color="#ffffff"/></linearGradient>
<linearGradient id="lg5" x1="0" y1="0" x2="0" y2="1"><stop offset="0" stop-color="#9a93ba"/><stop offset="0.14" stop-color="#9a93ba"/><stop offset="0.74" stop-color="#ffffff"/><stop offset="1" stop-color="#ffffff"/></linearGradient>
<linearGradient id="lg6" x1="0" y1="0" x2="0" y2="1"><stop offset="0" stop-color="#8ed47e"/><stop offset="0.14" stop-color="#8ed47e"/><stop offset="0.74" stop-color="#ffffff"/><stop offset="1" stop-color="#ffffff"/></linearGradient>
<linearGradient id="lg7" x1="0" y1="0" x2="0" y2="1"><stop offset="0" stop-color="#ff9a12"/><stop offset="0.14" stop-color="#ff9a12"/><stop offset="0.74" stop-color="#ffffff"/><stop offset="1" stop-color="#ffffff"/></linearGradient>
<linearGradient id="lg8" x1="0" y1="0" x2="0" y2="1"><stop offset="0" stop-color="#6b4aa6"/><stop offset="0.14" stop-color="#6b4aa6"/><stop offset="0.74" stop-color="#ffffff"/><stop offset="1" stop-color="#ffffff"/></linearGradient>
<linearGradient id="lg9" x1="0" y1="0" x2="0" y2="1"><stop offset="0" stop-color="#ffb184"/><stop offset="0.14" stop-color="#ffb184"/><stop offset="0.74" stop-color="#ffffff"/><stop offset="1" stop-color="#ffffff"/></linearGradient>
<linearGradient id="lg10" x1="0" y1="0" x2="0" y2="1"><stop offset="0" stop-color="#68836d"/><stop offset="0.14" stop-color="#68836d"/><stop offset="0.74" stop-color="#ffffff"/><stop offset="1" stop-color="#ffffff"/></linearGradient>
<linearGradient id="lg11" x1="0" y1="0" x2="0" y2="1"><stop offset="0" stop-color="#ff7a5c"/><stop offset="0.14" stop-color="#ff7a5c"/><stop offset="0.74" stop-color="#ffffff"/><stop offset="1" stop-color="#ffffff"/></linearGradient>
<linearGradient id="lg12" x1="0" y1="0" x2="0" y2="1"><stop offset="0" stop-color="#1db690"/><stop offset="0.14" stop-color="#1db690"/><stop offset="0.74" stop-color="#ffffff"/><stop offset="1" stop-color="#ffffff"/></linearGradient>
<linearGradient id="lg13" x1="0" y1="0" x2="0" y2="1"><stop offset="0" stop-color="#ff90a9"/><stop offset="0.14" stop-color="#ff90a9"/><stop offset="0.74" stop-color="#ffffff"/><stop offset="1" stop-color="#ffffff"/></linearGradient>
<linearGradient id="lg14" x1="0" y1="0" x2="0" y2="1"><stop offset="0" stop-color="#1878e0"/><stop offset="0.14" stop-color="#1878e0"/><stop offset="0.74" stop-color="#ffffff"/><stop offset="1" stop-color="#ffffff"/></linearGradient>
<linearGradient id="lg15" x1="0" y1="0" x2="0" y2="1"><stop offset="0" stop-color="#f0202f"/><stop offset="0.14" stop-color="#f0202f"/><stop offset="0.74" stop-color="#ffffff"/><stop offset="1" stop-color="#ffffff"/></linearGradient>
<linearGradient id="lg16" x1="0" y1="0" x2="0" y2="1"><stop offset="0" stop-color="#8a1f1f"/><stop offset="0.14" stop-color="#8a1f1f"/><stop offset="0.74" stop-color="#ffffff"/><stop offset="1" stop-color="#ffffff"/></linearGradient>
<linearGradient id="lg17" x1="0" y1="0" x2="0" y2="1"><stop offset="0" stop-color="#6b9a2e"/><stop offset="0.14" stop-color="#6b9a2e"/><stop offset="0.74" stop-color="#ffffff"/><stop offset="1" stop-color="#ffffff"/></linearGradient>
</defs>
<defs><linearGradient id="ol" x1="0" y1="0" x2="0" y2="1"><stop offset="0" stop-color="#aaaaaa" stop-opacity="0"/><stop offset="0.3" stop-color="#969696" stop-opacity="0.2"/><stop offset="0.6" stop-color="#969696" stop-opacity="1"/><stop offset="1" stop-color="#969696" stop-opacity="1"/></linearGradient></defs>
<g id="tracks">
<path d="M308.2 37.9H483.6" stroke="#c4c4c4" stroke-width="0.75"/>
<rect x="320.58" y="30.50" width="2.05" height="14.9" rx="0.5" fill="url(#g1)" stroke="url(#ol)" stroke-width="0.5"/>
<rect x="326.08" y="30.50" width="2.05" height="14.9" rx="0.5" fill="url(#g3)" stroke="url(#ol)" stroke-width="0.5"/>
<rect x="346.78" y="30.50" width="2.05" height="14.9" rx="0.5" fill="url(#g1)" stroke="url(#ol)" stroke-width="0.5"/>
<rect x="388.28" y="30.50" width="2.05" height="14.9" rx="0.5" fill="url(#g5)" stroke="url(#ol)" stroke-width="0.5"/>
<rect x="390.58" y="30.50" width="2.05" height="14.9" rx="0.5" fill="url(#g1)" stroke="url(#ol)" stroke-width="0.5"/>
<rect x="393.78" y="30.50" width="2.05" height="14.9" rx="0.5" fill="url(#g1)" stroke="url(#ol)" stroke-width="0.5"/>
<rect x="397.78" y="30.50" width="2.05" height="14.9" rx="0.5" fill="url(#g1)" stroke="url(#ol)" stroke-width="0.5"/>
<rect x="411.68" y="30.50" width="2.05" height="14.9" rx="0.5" fill="url(#g4)" stroke="url(#ol)" stroke-width="0.5"/>
<rect x="422.58" y="30.50" width="2.05" height="14.9" rx="0.5" fill="url(#g1)" stroke="url(#ol)" stroke-width="0.5"/>
<rect x="434.98" y="30.50" width="2.05" height="14.9" rx="0.5" fill="url(#g0)" stroke="url(#ol)" stroke-width="0.5"/>
<rect x="448.98" y="30.50" width="2.05" height="14.9" rx="0.5" fill="url(#g5)" stroke="url(#ol)" stroke-width="0.5"/>
<rect x="458.08" y="30.50" width="2.05" height="14.9" rx="0.5" fill="url(#g1)" stroke="url(#ol)" stroke-width="0.5"/>
<rect x="464.98" y="30.50" width="2.05" height="14.9" rx="0.5" fill="url(#g2)" stroke="url(#ol)" stroke-width="0.5"/>
<path d="M308.2 59.6H483.6" stroke="#c4c4c4" stroke-width="0.75"/>
<rect x="328.28" y="52.20" width="2.05" height="14.9" rx="0.5" fill="url(#g1)" stroke="url(#ol)" stroke-width="0.5"/>
<rect x="348.78" y="52.20" width="2.05" height="14.9" rx="0.5" fill="url(#g4)" stroke="url(#ol)" stroke-width="0.5"/>
<rect x="351.18" y="52.20" width="2.05" height="14.9" rx="0.5" fill="url(#g0)" stroke="url(#ol)" stroke-width="0.5"/>
<rect x="357.68" y="52.20" width="2.05" height="14.9" rx="0.5" fill="url(#g0)" stroke="url(#ol)" stroke-width="0.5"/>
<rect x="371.68" y="52.20" width="2.05" height="14.9" rx="0.5" fill="url(#g7)" stroke="url(#ol)" stroke-width="0.5"/>
<rect x="389.58" y="52.20" width="2.05" height="14.9" rx="0.5" fill="url(#g3)" stroke="url(#ol)" stroke-width="0.5"/>
<rect x="396.78" y="52.20" width="2.05" height="14.9" rx="0.5" fill="url(#g6)" stroke="url(#ol)" stroke-width="0.5"/>
<rect x="400.78" y="52.20" width="2.05" height="14.9" rx="0.5" fill="url(#g1)" stroke="url(#ol)" stroke-width="0.5"/>
<rect x="402.28" y="52.20" width="2.05" height="14.9" rx="0.5" fill="url(#g1)" stroke="url(#ol)" stroke-width="0.5"/>
<rect x="406.78" y="52.20" width="2.05" height="14.9" rx="0.5" fill="url(#g1)" stroke="url(#ol)" stroke-width="0.5"/>
<rect x="425.48" y="52.20" width="2.05" height="14.9" rx="0.5" fill="url(#g0)" stroke="url(#ol)" stroke-width="0.5"/>
<rect x="428.58" y="52.20" width="2.05" height="14.9" rx="0.5" fill="url(#g1)" stroke="url(#ol)" stroke-width="0.5"/>
<rect x="430.48" y="52.20" width="2.05" height="14.9" rx="0.5" fill="url(#g1)" stroke="url(#ol)" stroke-width="0.5"/>
<rect x="437.68" y="52.20" width="2.05" height="14.9" rx="0.5" fill="url(#g5)" stroke="url(#ol)" stroke-width="0.5"/>
<rect x="454.08" y="52.20" width="2.05" height="14.9" rx="0.5" fill="url(#g9)" stroke="url(#ol)" stroke-width="0.5"/>
<rect x="457.18" y="52.20" width="2.05" height="14.9" rx="0.5" fill="url(#g1)" stroke="url(#ol)" stroke-width="0.5"/>
<rect x="464.78" y="52.20" width="2.05" height="14.9" rx="0.5" fill="url(#g0)" stroke="url(#ol)" stroke-width="0.5"/>
<rect x="475.18" y="52.20" width="2.05" height="14.9" rx="0.5" fill="url(#g8)" stroke="url(#ol)" stroke-width="0.5"/>
<rect x="481.88" y="52.20" width="2.05" height="14.9" rx="0.5" fill="url(#g1)" stroke="url(#ol)" stroke-width="0.5"/>
<path d="M308.2 81.8H483.6" stroke="#c4c4c4" stroke-width="0.75"/>
<rect x="321.48" y="74.40" width="2.05" height="14.9" rx="0.5" fill="url(#g1)" stroke="url(#ol)" stroke-width="0.5"/>
<rect x="329.38" y="74.40" width="2.05" height="14.9" rx="0.5" fill="url(#g10)" stroke="url(#ol)" stroke-width="0.5"/>
<rect x="331.38" y="74.40" width="2.05" height="14.9" rx="0.5" fill="url(#g1)" stroke="url(#ol)" stroke-width="0.5"/>
<rect x="339.98" y="74.40" width="2.05" height="14.9" rx="0.5" fill="url(#g11)" stroke="url(#ol)" stroke-width="0.5"/>
<rect x="342.08" y="74.40" width="2.05" height="14.9" rx="0.5" fill="url(#g1)" stroke="url(#ol)" stroke-width="0.5"/>
<rect x="346.58" y="74.40" width="2.05" height="14.9" rx="0.5" fill="url(#g15)" stroke="url(#ol)" stroke-width="0.5"/>
<rect x="348.38" y="74.40" width="2.05" height="14.9" rx="0.5" fill="url(#g15)" stroke="url(#ol)" stroke-width="0.5"/>
<rect x="352.48" y="74.40" width="2.05" height="14.9" rx="0.5" fill="url(#g6)" stroke="url(#ol)" stroke-width="0.5"/>
<rect x="361.38" y="74.40" width="2.05" height="14.9" rx="0.5" fill="url(#g1)" stroke="url(#ol)" stroke-width="0.5"/>
<rect x="396.68" y="74.40" width="2.05" height="14.9" rx="0.5" fill="url(#g11)" stroke="url(#ol)" stroke-width="0.5"/>
<rect x="398.58" y="74.40" width="2.05" height="14.9" rx="0.5" fill="url(#g11)" stroke="url(#ol)" stroke-width="0.5"/>
<rect x="406.08" y="74.40" width="2.05" height="14.9" rx="0.5" fill="url(#g1)" stroke="url(#ol)" stroke-width="0.5"/>
<rect x="426.98" y="74.40" width="2.05" height="14.9" rx="0.5" fill="url(#g3)" stroke="url(#ol)" stroke-width="0.5"/>
<rect x="432.58" y="74.40" width="2.05" height="14.9" rx="0.5" fill="url(#g1)" stroke="url(#ol)" stroke-width="0.5"/>
<rect x="436.28" y="74.40" width="2.05" height="14.9" rx="0.5" fill="url(#g1)" stroke="url(#ol)" stroke-width="0.5"/>
<rect x="446.48" y="74.40" width="2.05" height="14.9" rx="0.5" fill="url(#g10)" stroke="url(#ol)" stroke-width="0.5"/>
<rect x="478.08" y="74.40" width="2.05" height="14.9" rx="0.5" fill="url(#g1)" stroke="url(#ol)" stroke-width="0.5"/>
<path d="M308.2 104.0H483.6" stroke="#c4c4c4" stroke-width="0.75"/>
<rect x="311.78" y="96.60" width="2.05" height="14.9" rx="0.5" fill="url(#g1)" stroke="url(#ol)" stroke-width="0.5"/>
<rect x="312.88" y="96.60" width="2.05" height="14.9" rx="0.5" fill="url(#g1)" stroke="url(#ol)" stroke-width="0.5"/>
<rect x="341.38" y="96.60" width="2.05" height="14.9" rx="0.5" fill="url(#g1)" stroke="url(#ol)" stroke-width="0.5"/>
<rect x="359.18" y="96.60" width="2.05" height="14.9" rx="0.5" fill="url(#g1)" stroke="url(#ol)" stroke-width="0.5"/>
<rect x="362.48" y="96.60" width="2.05" height="14.9" rx="0.5" fill="url(#g1)" stroke="url(#ol)" stroke-width="0.5"/>
<rect x="367.88" y="96.60" width="2.05" height="14.9" rx="0.5" fill="url(#g1)" stroke="url(#ol)" stroke-width="0.5"/>
<rect x="373.68" y="96.60" width="2.05" height="14.9" rx="0.5" fill="url(#g6)" stroke="url(#ol)" stroke-width="0.5"/>
<rect x="392.78" y="96.60" width="2.05" height="14.9" rx="0.5" fill="url(#g4)" stroke="url(#ol)" stroke-width="0.5"/>
<rect x="398.48" y="96.60" width="2.05" height="14.9" rx="0.5" fill="url(#g1)" stroke="url(#ol)" stroke-width="0.5"/>
<rect x="400.78" y="96.60" width="2.05" height="14.9" rx="0.5" fill="url(#g12)" stroke="url(#ol)" stroke-width="0.5"/>
<rect x="405.18" y="96.60" width="2.05" height="14.9" rx="0.5" fill="url(#g1)" stroke="url(#ol)" stroke-width="0.5"/>
<rect x="424.48" y="96.60" width="2.05" height="14.9" rx="0.5" fill="url(#g1)" stroke="url(#ol)" stroke-width="0.5"/>
<rect x="429.48" y="96.60" width="2.05" height="14.9" rx="0.5" fill="url(#g2)" stroke="url(#ol)" stroke-width="0.5"/>
<rect x="442.08" y="96.60" width="2.05" height="14.9" rx="0.5" fill="url(#g1)" stroke="url(#ol)" stroke-width="0.5"/>
<rect x="445.68" y="96.60" width="2.05" height="14.9" rx="0.5" fill="url(#g1)" stroke="url(#ol)" stroke-width="0.5"/>
<rect x="467.88" y="96.60" width="2.05" height="14.9" rx="0.5" fill="url(#g1)" stroke="url(#ol)" stroke-width="0.5"/>
<rect x="480.08" y="96.60" width="2.05" height="14.9" rx="0.5" fill="url(#g1)" stroke="url(#ol)" stroke-width="0.5"/>
<path d="M308.2 126.2H483.6" stroke="#c4c4c4" stroke-width="0.75"/>
<rect x="323.68" y="118.80" width="2.05" height="14.9" rx="0.5" fill="url(#g1)" stroke="url(#ol)" stroke-width="0.5"/>
<rect x="329.68" y="118.80" width="2.05" height="14.9" rx="0.5" fill="url(#g3)" stroke="url(#ol)" stroke-width="0.5"/>
<rect x="330.98" y="118.80" width="2.05" height="14.9" rx="0.5" fill="url(#g12)" stroke="url(#ol)" stroke-width="0.5"/>
<rect x="353.48" y="118.80" width="2.05" height="14.9" rx="0.5" fill="url(#g12)" stroke="url(#ol)" stroke-width="0.5"/>
<rect x="360.78" y="118.80" width="2.05" height="14.9" rx="0.5" fill="url(#g13)" stroke="url(#ol)" stroke-width="0.5"/>
<rect x="373.18" y="118.80" width="2.05" height="14.9" rx="0.5" fill="url(#g1)" stroke="url(#ol)" stroke-width="0.5"/>
<rect x="375.38" y="118.80" width="2.05" height="14.9" rx="0.5" fill="url(#g8)" stroke="url(#ol)" stroke-width="0.5"/>
<rect x="380.78" y="118.80" width="2.05" height="14.9" rx="0.5" fill="url(#g7)" stroke="url(#ol)" stroke-width="0.5"/>
<rect x="383.48" y="118.80" width="2.05" height="14.9" rx="0.5" fill="url(#g1)" stroke="url(#ol)" stroke-width="0.5"/>
<rect x="389.48" y="118.80" width="2.05" height="14.9" rx="0.5" fill="url(#g7)" stroke="url(#ol)" stroke-width="0.5"/>
<rect x="392.08" y="118.80" width="2.05" height="14.9" rx="0.5" fill="url(#g1)" stroke="url(#ol)" stroke-width="0.5"/>
<rect x="417.18" y="118.80" width="2.05" height="14.9" rx="0.5" fill="url(#g13)" stroke="url(#ol)" stroke-width="0.5"/>
<rect x="422.98" y="118.80" width="2.05" height="14.9" rx="0.5" fill="url(#g2)" stroke="url(#ol)" stroke-width="0.5"/>
<rect x="425.88" y="118.80" width="2.05" height="14.9" rx="0.5" fill="url(#g3)" stroke="url(#ol)" stroke-width="0.5"/>
<rect x="437.38" y="118.80" width="2.05" height="14.9" rx="0.5" fill="url(#g7)" stroke="url(#ol)" stroke-width="0.5"/>
<rect x="457.68" y="118.80" width="2.05" height="14.9" rx="0.5" fill="url(#g2)" stroke="url(#ol)" stroke-width="0.5"/>
<rect x="464.28" y="118.80" width="2.05" height="14.9" rx="0.5" fill="url(#g1)" stroke="url(#ol)" stroke-width="0.5"/>
<rect x="466.78" y="118.80" width="2.05" height="14.9" rx="0.5" fill="url(#g0)" stroke="url(#ol)" stroke-width="0.5"/>
<path d="M308.2 148.4H483.6" stroke="#c4c4c4" stroke-width="0.75"/>
<rect x="316.48" y="141.00" width="2.05" height="14.9" rx="0.5" fill="url(#g3)" stroke="url(#ol)" stroke-width="0.5"/>
<rect x="326.78" y="141.00" width="2.05" height="14.9" rx="0.5" fill="url(#g14)" stroke="url(#ol)" stroke-width="0.5"/>
<rect x="330.78" y="141.00" width="2.05" height="14.9" rx="0.5" fill="url(#g3)" stroke="url(#ol)" stroke-width="0.5"/>
<rect x="340.48" y="141.00" width="2.05" height="14.9" rx="0.5" fill="url(#g7)" stroke="url(#ol)" stroke-width="0.5"/>
<rect x="344.58" y="141.00" width="2.05" height="14.9" rx="0.5" fill="url(#g8)" stroke="url(#ol)" stroke-width="0.5"/>
<rect x="348.58" y="141.00" width="2.05" height="14.9" rx="0.5" fill="url(#g1)" stroke="url(#ol)" stroke-width="0.5"/>
<rect x="354.78" y="141.00" width="2.05" height="14.9" rx="0.5" fill="url(#g11)" stroke="url(#ol)" stroke-width="0.5"/>
<rect x="356.78" y="141.00" width="2.05" height="14.9" rx="0.5" fill="url(#g7)" stroke="url(#ol)" stroke-width="0.5"/>
<rect x="358.48" y="141.00" width="2.05" height="14.9" rx="0.5" fill="url(#g1)" stroke="url(#ol)" stroke-width="0.5"/>
<rect x="362.98" y="141.00" width="2.05" height="14.9" rx="0.5" fill="url(#g12)" stroke="url(#ol)" stroke-width="0.5"/>
<rect x="392.78" y="141.00" width="2.05" height="14.9" rx="0.5" fill="url(#g7)" stroke="url(#ol)" stroke-width="0.5"/>
<rect x="399.18" y="141.00" width="2.05" height="14.9" rx="0.5" fill="url(#g7)" stroke="url(#ol)" stroke-width="0.5"/>
<rect x="413.68" y="141.00" width="2.05" height="14.9" rx="0.5" fill="url(#g11)" stroke="url(#ol)" stroke-width="0.5"/>
<rect x="425.38" y="141.00" width="2.05" height="14.9" rx="0.5" fill="url(#g4)" stroke="url(#ol)" stroke-width="0.5"/>
<rect x="429.38" y="141.00" width="2.05" height="14.9" rx="0.5" fill="url(#g7)" stroke="url(#ol)" stroke-width="0.5"/>
<rect x="435.88" y="141.00" width="2.05" height="14.9" rx="0.5" fill="url(#g1)" stroke="url(#ol)" stroke-width="0.5"/>
<rect x="438.28" y="141.00" width="2.05" height="14.9" rx="0.5" fill="url(#g14)" stroke="url(#ol)" stroke-width="0.5"/>
<rect x="442.08" y="141.00" width="2.05" height="14.9" rx="0.5" fill="url(#g5)" stroke="url(#ol)" stroke-width="0.5"/>
<rect x="445.88" y="141.00" width="2.05" height="14.9" rx="0.5" fill="url(#g12)" stroke="url(#ol)" stroke-width="0.5"/>
<rect x="450.78" y="141.00" width="2.05" height="14.9" rx="0.5" fill="url(#g7)" stroke="url(#ol)" stroke-width="0.5"/>
<rect x="454.58" y="141.00" width="2.05" height="14.9" rx="0.5" fill="url(#g3)" stroke="url(#ol)" stroke-width="0.5"/>
<rect x="465.38" y="141.00" width="2.05" height="14.9" rx="0.5" fill="url(#g8)" stroke="url(#ol)" stroke-width="0.5"/>
<rect x="470.98" y="141.00" width="2.05" height="14.9" rx="0.5" fill="url(#g1)" stroke="url(#ol)" stroke-width="0.5"/>
<rect x="481.88" y="141.00" width="2.05" height="14.9" rx="0.5" fill="url(#g1)" stroke="url(#ol)" stroke-width="0.5"/>
<path d="M308.2 170.2H483.6" stroke="#c4c4c4" stroke-width="0.75"/>
<rect x="321.48" y="162.80" width="2.05" height="14.9" rx="0.5" fill="url(#g1)" stroke="url(#ol)" stroke-width="0.5"/>
<rect x="327.88" y="162.80" width="2.05" height="14.9" rx="0.5" fill="url(#g10)" stroke="url(#ol)" stroke-width="0.5"/>
<rect x="341.38" y="162.80" width="2.05" height="14.9" rx="0.5" fill="url(#g1)" stroke="url(#ol)" stroke-width="0.5"/>
<rect x="349.38" y="162.80" width="2.05" height="14.9" rx="0.5" fill="url(#g3)" stroke="url(#ol)" stroke-width="0.5"/>
<rect x="352.48" y="162.80" width="2.05" height="14.9" rx="0.5" fill="url(#g8)" stroke="url(#ol)" stroke-width="0.5"/>
<rect x="388.08" y="162.80" width="2.05" height="14.9" rx="0.5" fill="url(#g3)" stroke="url(#ol)" stroke-width="0.5"/>
<rect x="390.38" y="162.80" width="2.05" height="14.9" rx="0.5" fill="url(#g1)" stroke="url(#ol)" stroke-width="0.5"/>
<rect x="424.48" y="162.80" width="2.05" height="14.9" rx="0.5" fill="url(#g9)" stroke="url(#ol)" stroke-width="0.5"/>
<rect x="426.58" y="162.80" width="2.05" height="14.9" rx="0.5" fill="url(#g9)" stroke="url(#ol)" stroke-width="0.5"/>
<rect x="428.58" y="162.80" width="2.05" height="14.9" rx="0.5" fill="url(#g1)" stroke="url(#ol)" stroke-width="0.5"/>
<rect x="431.68" y="162.80" width="2.05" height="14.9" rx="0.5" fill="url(#g1)" stroke="url(#ol)" stroke-width="0.5"/>
<rect x="440.58" y="162.80" width="2.05" height="14.9" rx="0.5" fill="url(#g1)" stroke="url(#ol)" stroke-width="0.5"/>
<rect x="450.98" y="162.80" width="2.05" height="14.9" rx="0.5" fill="url(#g12)" stroke="url(#ol)" stroke-width="0.5"/>
<rect x="456.58" y="162.80" width="2.05" height="14.9" rx="0.5" fill="url(#g1)" stroke="url(#ol)" stroke-width="0.5"/>
<rect x="459.48" y="162.80" width="2.05" height="14.9" rx="0.5" fill="url(#g3)" stroke="url(#ol)" stroke-width="0.5"/>
<rect x="461.38" y="162.80" width="2.05" height="14.9" rx="0.5" fill="url(#g1)" stroke="url(#ol)" stroke-width="0.5"/>
<rect x="462.88" y="162.80" width="2.05" height="14.9" rx="0.5" fill="url(#g6)" stroke="url(#ol)" stroke-width="0.5"/>
<rect x="470.58" y="162.80" width="2.05" height="14.9" rx="0.5" fill="url(#g12)" stroke="url(#ol)" stroke-width="0.5"/>
<rect x="471.78" y="162.80" width="2.05" height="14.9" rx="0.5" fill="url(#g12)" stroke="url(#ol)" stroke-width="0.5"/>
<rect x="478.48" y="162.80" width="2.05" height="14.9" rx="0.5" fill="url(#g8)" stroke="url(#ol)" stroke-width="0.5"/>
<rect x="476.88" y="162.80" width="2.05" height="14.9" rx="0.5" fill="url(#g1)" stroke="url(#ol)" stroke-width="0.5"/>
<rect x="482.48" y="162.80" width="2.05" height="14.9" rx="0.5" fill="url(#g0)" stroke="url(#ol)" stroke-width="0.5"/>
<path d="M308.2 192.4H483.6" stroke="#c4c4c4" stroke-width="0.75"/>
<rect x="309.38" y="185.00" width="2.05" height="14.9" rx="0.5" fill="url(#g7)" stroke="url(#ol)" stroke-width="0.5"/>
<rect x="311.68" y="185.00" width="2.05" height="14.9" rx="0.5" fill="url(#g7)" stroke="url(#ol)" stroke-width="0.5"/>
<rect x="327.68" y="185.00" width="2.05" height="14.9" rx="0.5" fill="url(#g15)" stroke="url(#ol)" stroke-width="0.5"/>
<rect x="331.38" y="185.00" width="2.05" height="14.9" rx="0.5" fill="url(#g15)" stroke="url(#ol)" stroke-width="0.5"/>
<rect x="359.18" y="185.00" width="2.05" height="14.9" rx="0.5" fill="url(#g1)" stroke="url(#ol)" stroke-width="0.5"/>
<rect x="362.28" y="185.00" width="2.05" height="14.9" rx="0.5" fill="url(#g1)" stroke="url(#ol)" stroke-width="0.5"/>
<rect x="370.98" y="185.00" width="2.05" height="14.9" rx="0.5" fill="url(#g1)" stroke="url(#ol)" stroke-width="0.5"/>
<rect x="371.98" y="185.00" width="2.05" height="14.9" rx="0.5" fill="url(#g1)" stroke="url(#ol)" stroke-width="0.5"/>
<rect x="386.48" y="185.00" width="2.05" height="14.9" rx="0.5" fill="url(#g3)" stroke="url(#ol)" stroke-width="0.5"/>
<rect x="390.28" y="185.00" width="2.05" height="14.9" rx="0.5" fill="url(#g0)" stroke="url(#ol)" stroke-width="0.5"/>
<rect x="392.28" y="185.00" width="2.05" height="14.9" rx="0.5" fill="url(#g1)" stroke="url(#ol)" stroke-width="0.5"/>
<rect x="400.98" y="185.00" width="2.05" height="14.9" rx="0.5" fill="url(#g16)" stroke="url(#ol)" stroke-width="0.5"/>
<rect x="417.88" y="185.00" width="2.05" height="14.9" rx="0.5" fill="url(#g15)" stroke="url(#ol)" stroke-width="0.5"/>
<rect x="422.98" y="185.00" width="2.05" height="14.9" rx="0.5" fill="url(#g4)" stroke="url(#ol)" stroke-width="0.5"/>
<rect x="427.18" y="185.00" width="2.05" height="14.9" rx="0.5" fill="url(#g1)" stroke="url(#ol)" stroke-width="0.5"/>
<rect x="438.08" y="185.00" width="2.05" height="14.9" rx="0.5" fill="url(#g12)" stroke="url(#ol)" stroke-width="0.5"/>
<rect x="440.78" y="185.00" width="2.05" height="14.9" rx="0.5" fill="url(#g9)" stroke="url(#ol)" stroke-width="0.5"/>
<rect x="463.38" y="185.00" width="2.05" height="14.9" rx="0.5" fill="url(#g1)" stroke="url(#ol)" stroke-width="0.5"/>
<rect x="478.58" y="185.00" width="2.05" height="14.9" rx="0.5" fill="url(#g1)" stroke="url(#ol)" stroke-width="0.5"/>
<rect x="482.98" y="185.00" width="2.05" height="14.9" rx="0.5" fill="url(#g8)" stroke="url(#ol)" stroke-width="0.5"/>
<rect x="480.88" y="185.00" width="2.05" height="14.9" rx="0.5" fill="url(#g4)" stroke="url(#ol)" stroke-width="0.5"/>
<path d="M308.2 214.2H483.6" stroke="#c4c4c4" stroke-width="0.75"/>
<rect x="310.08" y="206.80" width="2.05" height="14.9" rx="0.5" fill="url(#g1)" stroke="url(#ol)" stroke-width="0.5"/>
<rect x="340.28" y="206.80" width="2.05" height="14.9" rx="0.5" fill="url(#g1)" stroke="url(#ol)" stroke-width="0.5"/>
<rect x="343.48" y="206.80" width="2.05" height="14.9" rx="0.5" fill="url(#g3)" stroke="url(#ol)" stroke-width="0.5"/>
<rect x="360.78" y="206.80" width="2.05" height="14.9" rx="0.5" fill="url(#g1)" stroke="url(#ol)" stroke-width="0.5"/>
<rect x="377.38" y="206.80" width="2.05" height="14.9" rx="0.5" fill="url(#g1)" stroke="url(#ol)" stroke-width="0.5"/>
<rect x="384.48" y="206.80" width="2.05" height="14.9" rx="0.5" fill="url(#g11)" stroke="url(#ol)" stroke-width="0.5"/>
<rect x="390.38" y="206.80" width="2.05" height="14.9" rx="0.5" fill="url(#g1)" stroke="url(#ol)" stroke-width="0.5"/>
<rect x="405.88" y="206.80" width="2.05" height="14.9" rx="0.5" fill="url(#g2)" stroke="url(#ol)" stroke-width="0.5"/>
<rect x="422.38" y="206.80" width="2.05" height="14.9" rx="0.5" fill="url(#g11)" stroke="url(#ol)" stroke-width="0.5"/>
<rect x="423.18" y="206.80" width="2.05" height="14.9" rx="0.5" fill="url(#g1)" stroke="url(#ol)" stroke-width="0.5"/>
<rect x="442.08" y="206.80" width="2.05" height="14.9" rx="0.5" fill="url(#g1)" stroke="url(#ol)" stroke-width="0.5"/>
<rect x="450.98" y="206.80" width="2.05" height="14.9" rx="0.5" fill="url(#g17)" stroke="url(#ol)" stroke-width="0.5"/>
<rect x="455.68" y="206.80" width="2.05" height="14.9" rx="0.5" fill="url(#g3)" stroke="url(#ol)" stroke-width="0.5"/>
<rect x="462.58" y="206.80" width="2.05" height="14.9" rx="0.5" fill="url(#g1)" stroke="url(#ol)" stroke-width="0.5"/>
<rect x="466.08" y="206.80" width="2.05" height="14.9" rx="0.5" fill="url(#g3)" stroke="url(#ol)" stroke-width="0.5"/>
<rect x="477.48" y="206.80" width="2.05" height="14.9" rx="0.5" fill="url(#g14)" stroke="url(#ol)" stroke-width="0.5"/>
<rect x="480.48" y="206.80" width="2.05" height="14.9" rx="0.5" fill="url(#g1)" stroke="url(#ol)" stroke-width="0.5"/>
<path d="M308.2 236.4H483.6" stroke="#c4c4c4" stroke-width="0.75"/>
<rect x="316.48" y="229.00" width="2.05" height="14.9" rx="0.5" fill="url(#g1)" stroke="url(#ol)" stroke-width="0.5"/>
<rect x="320.78" y="229.00" width="2.05" height="14.9" rx="0.5" fill="url(#g4)" stroke="url(#ol)" stroke-width="0.5"/>
<rect x="326.58" y="229.00" width="2.05" height="14.9" rx="0.5" fill="url(#g1)" stroke="url(#ol)" stroke-width="0.5"/>
<rect x="340.98" y="229.00" width="2.05" height="14.9" rx="0.5" fill="url(#g5)" stroke="url(#ol)" stroke-width="0.5"/>
<rect x="341.78" y="229.00" width="2.05" height="14.9" rx="0.5" fill="url(#g1)" stroke="url(#ol)" stroke-width="0.5"/>
<rect x="356.08" y="229.00" width="2.05" height="14.9" rx="0.5" fill="url(#g7)" stroke="url(#ol)" stroke-width="0.5"/>
<rect x="366.58" y="229.00" width="2.05" height="14.9" rx="0.5" fill="url(#g3)" stroke="url(#ol)" stroke-width="0.5"/>
<rect x="369.98" y="229.00" width="2.05" height="14.9" rx="0.5" fill="url(#g11)" stroke="url(#ol)" stroke-width="0.5"/>
<rect x="368.68" y="229.00" width="2.05" height="14.9" rx="0.5" fill="url(#g1)" stroke="url(#ol)" stroke-width="0.5"/>
<rect x="375.78" y="229.00" width="2.05" height="14.9" rx="0.5" fill="url(#g3)" stroke="url(#ol)" stroke-width="0.5"/>
<rect x="377.78" y="229.00" width="2.05" height="14.9" rx="0.5" fill="url(#g12)" stroke="url(#ol)" stroke-width="0.5"/>
<rect x="392.28" y="229.00" width="2.05" height="14.9" rx="0.5" fill="url(#g1)" stroke="url(#ol)" stroke-width="0.5"/>
<rect x="404.58" y="229.00" width="2.05" height="14.9" rx="0.5" fill="url(#g1)" stroke="url(#ol)" stroke-width="0.5"/>
<rect x="412.48" y="229.00" width="2.05" height="14.9" rx="0.5" fill="url(#g12)" stroke="url(#ol)" stroke-width="0.5"/>
<rect x="432.08" y="229.00" width="2.05" height="14.9" rx="0.5" fill="url(#g1)" stroke="url(#ol)" stroke-width="0.5"/>
<rect x="442.78" y="229.00" width="2.05" height="14.9" rx="0.5" fill="url(#g7)" stroke="url(#ol)" stroke-width="0.5"/>
<rect x="449.48" y="229.00" width="2.05" height="14.9" rx="0.5" fill="url(#g12)" stroke="url(#ol)" stroke-width="0.5"/>
<rect x="457.18" y="229.00" width="2.05" height="14.9" rx="0.5" fill="url(#g1)" stroke="url(#ol)" stroke-width="0.5"/>
<rect x="459.48" y="229.00" width="2.05" height="14.9" rx="0.5" fill="url(#g15)" stroke="url(#ol)" stroke-width="0.5"/>
<rect x="479.48" y="229.00" width="2.05" height="14.9" rx="0.5" fill="url(#g1)" stroke="url(#ol)" stroke-width="0.5"/>
</g>
<g id="axis" stroke="#b0b0b0" stroke-width="0.7" fill="none">
<path d="M307.9 258.4H483.7"/>
<path d="M307.90 258.4V264.2"/>
<path d="M325.48 258.4V264.2"/>
<path d="M343.06 258.4V264.2"/>
<path d="M360.64 258.4V264.2"/>
<path d="M378.22 258.4V264.2"/>
<path d="M395.80 258.4V264.2"/>
<path d="M413.38 258.4V264.2"/>
<path d="M430.96 258.4V264.2"/>
<path d="M448.54 258.4V264.2"/>
<path d="M466.12 258.4V264.2"/>
<path d="M483.70 258.4V264.2"/>
</g>
<g id="axislabels" font-family="'Liberation Sans', Arial, sans-serif" font-size="11.5" fill="#2a2a2a" text-anchor="middle" stroke="#2a2a2a" stroke-width="0.3">
<text vector-effect="non-scaling-stroke" transform="translate(307.90,275.1) scale(0.365,1)">0</text>
<text vector-effect="non-scaling-stroke" transform="translate(325.48,275.1) scale(0.365,1)">200</text>
<text vector-effect="non-scaling-stroke" transform="translate(343.06,275.1) scale(0.365,1)">400</text>
<text vector-effect="non-scaling-stroke" transform="translate(360.64,275.1) scale(0.365,1)">600</text>
<text vector-effect="non-scaling-stroke" transform="translate(378.22,275.1) scale(0.365,1)">800</text>
<text vector-effect="non-scaling-stroke" transform="translate(395.80,275.1) scale(0.365,1)">1000</text>
<text vector-effect="non-scaling-stroke" transform="translate(413.38,275.1) scale(0.365,1)">1200</text>
<text vector-effect="non-scaling-stroke" transform="translate(430.96,275.1) scale(0.365,1)">1400</text>
<text vector-effect="non-scaling-stroke" transform="translate(448.54,275.1) scale(0.365,1)">1600</text>
<text vector-effect="non-scaling-stroke" transform="translate(466.12,275.1) scale(0.365,1)">1800</text>
<text vector-effect="non-scaling-stroke" transform="translate(483.70,275.1) scale(0.365,1)">2000</text>
<text vector-effect="non-scaling-stroke" transform="translate(305.1,260.9) scale(0.46,1)">5'</text>
<text vector-effect="non-scaling-stroke" transform="translate(486.2,260.9) scale(0.46,1)">3'</text>
</g>
<defs><linearGradient id="ol2" x1="0" y1="0" x2="0" y2="1"><stop offset="0" stop-color="#b0b0b0" stop-opacity="0"/><stop offset="0.2" stop-color="#b0b0b0" stop-opacity="0.3"/><stop offset="0.6" stop-color="#b0b0b0" stop-opacity="1"/><stop offset="1" stop-color="#b0b0b0" stop-opacity="1"/></linearGradient></defs>
<g id="legend" font-family="'Liberation Sans', Arial, sans-serif" font-size="6.2" fill="#1c1c1c" stroke="#1c1c1c" stroke-width="0.14">
<rect x="493.4" y="18.70" width="11.3" height="7.6" fill="url(#lg0)" stroke="url(#ol2)" stroke-width="0.6"/>
<text transform="translate(506.3,24.45) scale(0.69,1)">Meristem</text>
<rect x="493.4" y="29.80" width="11.3" height="7.6" fill="url(#lg1)" stroke="url(#ol2)" stroke-width="0.6"/>
<text transform="translate(506.3,35.55) scale(0.69,1)">Light</text>
<rect x="493.4" y="40.90" width="11.3" height="7.6" fill="url(#lg2)" stroke="url(#ol2)" stroke-width="0.6"/>
<text transform="translate(506.3,46.65) scale(0.69,1)">ABRE</text>
<rect x="493.4" y="52.00" width="11.3" height="7.6" fill="url(#lg3)" stroke="url(#ol2)" stroke-width="0.6"/>
<text transform="translate(506.3,57.75) scale(0.69,1)">ARE</text>
<rect x="493.4" y="63.10" width="11.3" height="7.6" fill="url(#lg4)" stroke="url(#ol2)" stroke-width="0.6"/>
<text transform="translate(506.3,68.85) scale(0.69,1)">SARE</text>
<rect x="493.4" y="74.20" width="11.3" height="7.6" fill="url(#lg5)" stroke="url(#ol2)" stroke-width="0.6"/>
<text transform="translate(506.3,79.95) scale(0.69,1)">MYB-1</text>
<rect x="493.4" y="85.30" width="11.3" height="7.6" fill="url(#lg6)" stroke="url(#ol2)" stroke-width="0.6"/>
<text transform="translate(506.3,91.05) scale(0.69,1)">Defense and stress</text>
<rect x="493.4" y="96.40" width="11.3" height="7.6" fill="url(#lg7)" stroke="url(#ol2)" stroke-width="0.6"/>
<text transform="translate(506.3,102.15) scale(0.69,1)">GBRE</text>
<rect x="493.4" y="107.50" width="11.3" height="7.6" fill="url(#lg8)" stroke="url(#ol2)" stroke-width="0.6"/>
<text transform="translate(506.3,113.25) scale(0.69,1)">AuxRE</text>
<rect x="493.4" y="118.60" width="11.3" height="7.6" fill="url(#lg9)" stroke="url(#ol2)" stroke-width="0.6"/>
<text transform="translate(506.3,124.35) scale(0.69,1)">MYB-2</text>
<rect x="493.4" y="129.70" width="11.3" height="7.6" fill="url(#lg10)" stroke="url(#ol2)" stroke-width="0.6"/>
<text transform="translate(506.3,135.45) scale(0.69,1)">LTR</text>
<rect x="493.4" y="140.80" width="11.3" height="7.6" fill="url(#lg11)" stroke="url(#ol2)" stroke-width="0.6"/>
<text transform="translate(506.3,146.55) scale(0.69,1)">Zein</text>
<rect x="493.4" y="151.90" width="11.3" height="7.6" fill="url(#lg12)" stroke="url(#ol2)" stroke-width="0.6"/>
<text transform="translate(506.3,157.65) scale(0.69,1)">MeJA</text>
<rect x="493.4" y="163.00" width="11.3" height="7.6" fill="url(#lg13)" stroke="url(#ol2)" stroke-width="0.6"/>
<text transform="translate(506.3,168.75) scale(0.69,1)">Drought</text>
<rect x="493.4" y="174.10" width="11.3" height="7.6" fill="url(#lg14)" stroke="url(#ol2)" stroke-width="0.6"/>
<text transform="translate(506.3,179.85) scale(0.69,1)">Endosperm</text>
<rect x="493.4" y="185.20" width="11.3" height="7.6" fill="url(#lg15)" stroke="url(#ol2)" stroke-width="0.6"/>
<text transform="translate(506.3,190.95) scale(0.69,1)">Circadian</text>
<rect x="493.4" y="196.30" width="11.3" height="7.6" fill="url(#lg16)" stroke="url(#ol2)" stroke-width="0.6"/>
<text transform="translate(506.3,202.05) scale(0.69,1)">MYBHv1</text>
<rect x="493.4" y="207.40" width="11.3" height="7.6" fill="url(#lg17)" stroke="url(#ol2)" stroke-width="0.6"/>
<text transform="translate(506.3,213.15) scale(0.69,1)">Wound</text>
</g>
<path d="M546.5 5V333.5" stroke="#dcdcdc" stroke-width="0.8"/>
</svg>
</body></html>
